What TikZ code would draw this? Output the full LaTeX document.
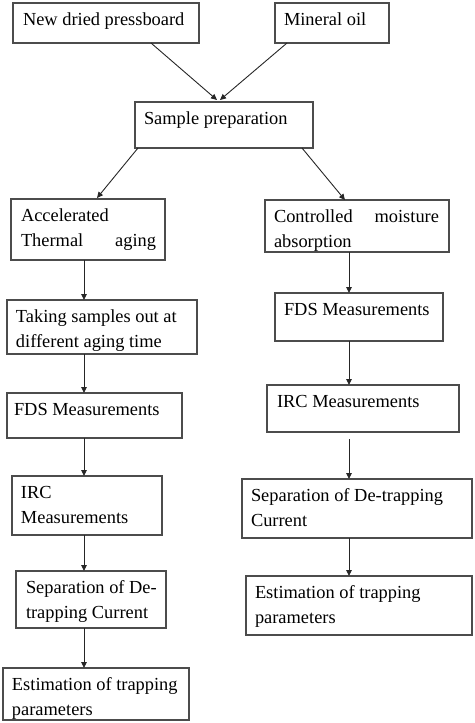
\documentclass[tikz,border=0pt]{standalone}
\usepackage{fontspec}
\setmainfont{Liberation Serif}
\usetikzlibrary{arrows.meta,calc}
\tikzset{
  box/.style={draw=black!70, line width=1.3pt, rectangle, inner sep=0pt, outer sep=0pt,
    font=\fontsize{18.4}{25}\selectfont},
  arr/.style={draw=black!85, line width=0.9pt, -{Triangle[length=6pt,width=5.5pt]}}
}
% \bx{name}{x1}{y1}{x2}{y2}{leftpad}{rightpad}{text}
\newcommand{\bx}[8]{%
  \pgfmathsetmacro{\bw}{#4-#2}\pgfmathsetmacro{\bh}{#5-#3}%
  \pgfmathsetmacro{\tw}{#4-#2-#6-#7}%
  \node[box, minimum width=\bw pt, minimum height=\bh pt, anchor=north west] (#1) at (#2,#3)
    {\hspace*{#6pt}\parbox[c][\bh pt][t]{\tw pt}{\rule{0pt}{22.5pt}#8}\hspace*{#7pt}};%
}
\begin{document}
\begin{tikzpicture}[x=1pt,y=-1pt]
\useasboundingbox (0,0) rectangle (474,723);
\bx{pb}{13}{3}{199}{43}{10}{5}{New dried pressboard}
\bx{mo}{275}{3}{389}{43}{9}{5}{Mineral oil}
\bx{sp}{135}{102}{313}{148}{9}{5}{Sample preparation}
\bx{ata}{11}{199}{165}{260}{10}{9}{Accelerated\\Thermal\hfill aging}
\bx{cma}{265}{200}{449}{252}{9}{10}{Controlled\hfill moisture\\absorption}
\bx{tak}{7}{300}{197}{354}{9}{3}{Taking samples out at\\different aging time}
\bx{fdsL}{7}{393}{182}{438}{7}{5}{FDS Measurements}
\bx{ircL}{12}{476}{162}{535}{9}{5}{IRC\\Measurements}
\bx{sepL}{16}{571}{166}{628}{10}{3}{Separation of De-\\trapping Current}
\bx{estL}{3}{668}{189}{720}{9}{3}{Estimation of trapping\\parameters}
\bx{fdsR}{275}{293}{443}{341}{9}{5}{FDS Measurements}
\bx{ircR}{267}{385}{459}{432}{10}{5}{IRC Measurements}
\bx{sepR}{242}{479}{472}{538}{9}{5}{Separation of De-trapping\\Current}
\bx{estR}{246}{576}{472}{635}{9}{5}{Estimation of trapping\\parameters}
\coordinate (colL) at (84,0);
\coordinate (colR) at (349,0);
\draw[arr] ([xshift=138pt]pb.south west) -- ([xshift=82pt,yshift=2pt]sp.north west);
\draw[arr] ([xshift=12pt]mo.south west) -- ([xshift=85pt,yshift=2pt]sp.north west);
\draw[arr] ([xshift=3pt]sp.south west) -- ([xshift=86pt,yshift=1pt]ata.north west);
\draw[arr] ([xshift=-11pt]sp.south east) -- ([xshift=80pt,yshift=0pt]cma.north west);
\draw[arr] (ata.south -| colL) -- (tak.north -| colL);
\draw[arr] (tak.south -| colL) -- (fdsL.north -| colL);
\draw[arr] (fdsL.south -| colL) -- (ircL.north -| colL);
\draw[arr] (ircL.south -| colL) -- (sepL.north -| colL);
\draw[arr] (sepL.south -| colL) -- (estL.north -| colL);
\draw[arr] (cma.south -| colR) -- (fdsR.north -| colR);
\draw[arr] (fdsR.south -| colR) -- (ircR.north -| colR);
\draw[arr, shorten <=7pt] (ircR.south -| colR) -- (sepR.north -| colR);
\draw[arr] (sepR.south -| colR) -- (estR.north -| colR);
\end{tikzpicture}
\end{document}
